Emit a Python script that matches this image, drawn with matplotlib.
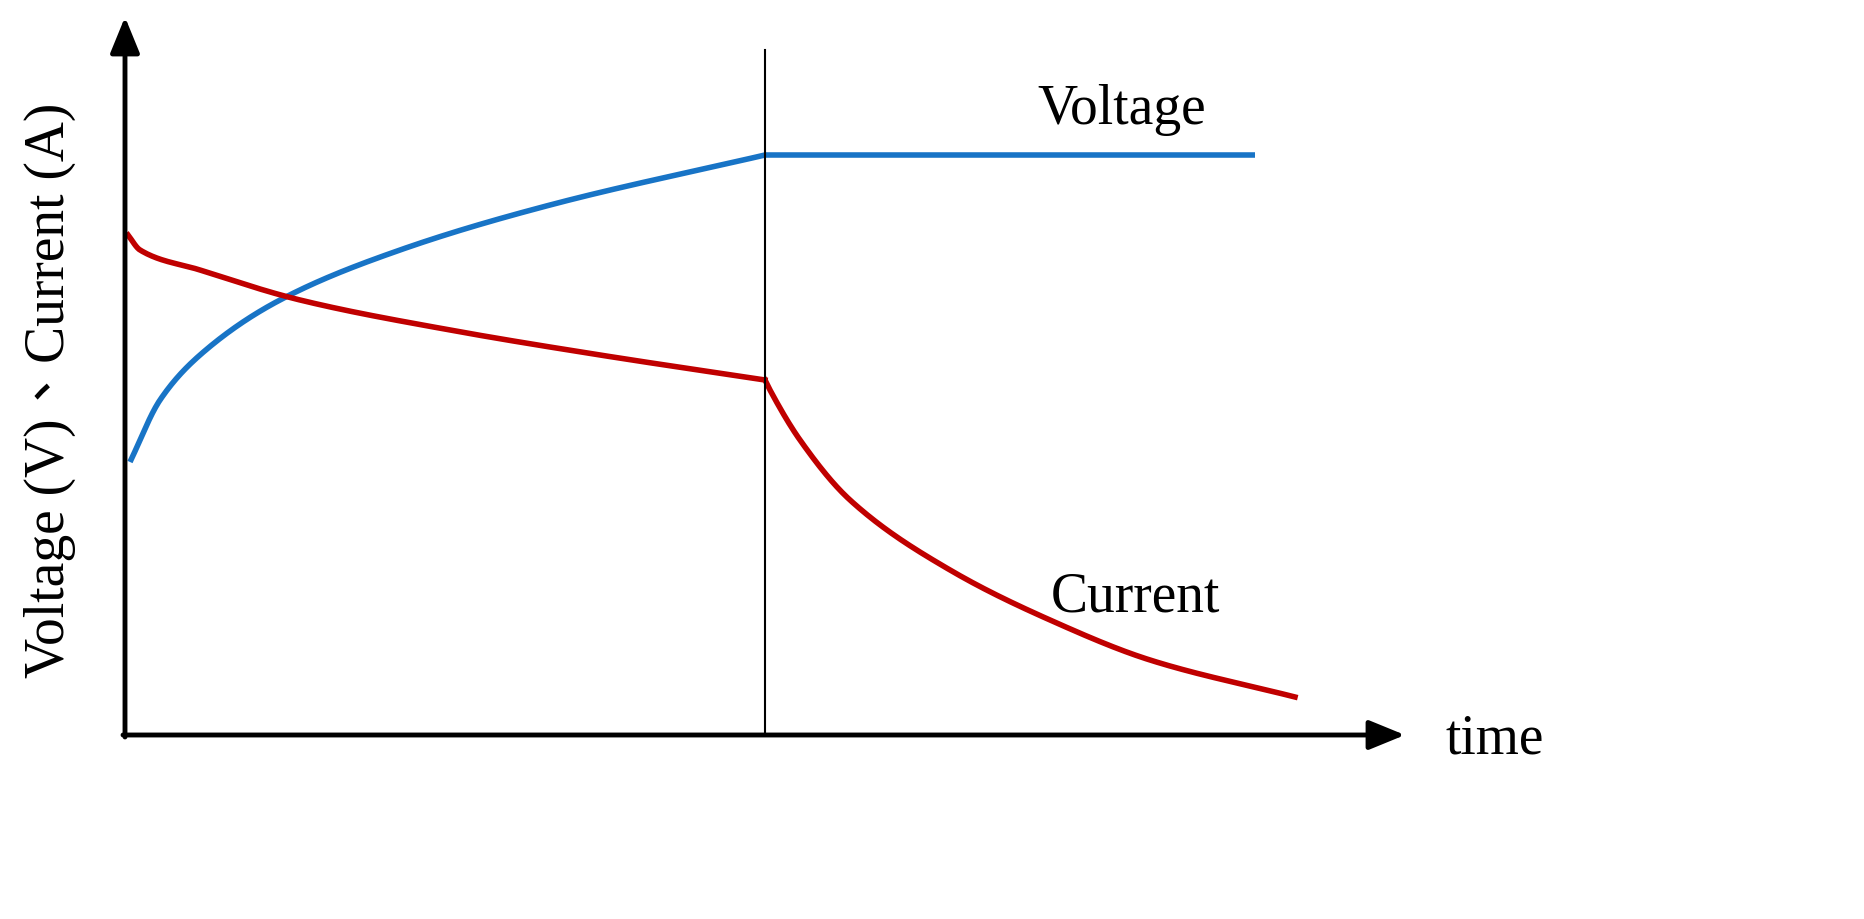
import matplotlib
matplotlib.use("Agg")
import matplotlib.pyplot as plt
import numpy as np

# schematic data (x: time units, y: magnitude units)
v_x = [5, 35, 75, 155, 275, 425, 640, 1130]
v_y = [273, 335, 380, 435, 485, 530, 580, 580]
c1_x = [3, 15, 75, 175, 325, 475, 640]
c1_y = [500, 485, 465, 435, 405, 380, 355]
c2_x = [640, 645, 675, 725, 825, 925, 1025, 1170]
c2_y = [355, 345, 295, 235, 165, 115, 75, 38]

fig = plt.figure(figsize=(18.65, 9.19), dpi=100)
ax = fig.add_axes([0, 0, 1, 1])
ax.set_xlim(-125, 1740)
ax.set_ylim(-184, 735)
ax.axis("off")

def pchip(x, y, n=400):
    x = np.asarray(x, float); y = np.asarray(y, float)
    h = np.diff(x); d = np.diff(y) / h
    m = np.zeros_like(y)
    for k in range(1, len(x) - 1):
        if d[k-1] * d[k] > 0:
            w1 = 2*h[k] + h[k-1]; w2 = h[k] + 2*h[k-1]
            m[k] = (w1 + w2) / (w1 / d[k-1] + w2 / d[k])
    m[0] = d[0]; m[-1] = d[-1]
    t = np.linspace(x[0], x[-1], n)
    i = np.clip(np.searchsorted(x, t) - 1, 0, len(x) - 2)
    s = (t - x[i]) / h[i]
    h00 = 2*s**3 - 3*s**2 + 1; h10 = s**3 - 2*s**2 + s
    h01 = -2*s**3 + 3*s**2; h11 = s**3 - s**2
    yt = h00*y[i] + h10*h[i]*m[i] + h01*y[i+1] + h11*h[i]*m[i+1]
    return t, yt

xs, ys = pchip(v_x[:-1], v_y[:-1])
ax.plot(np.r_[xs, v_x[-1]], np.r_[ys, v_y[-1]], color="#1874c6", lw=4, solid_capstyle="butt")
xs, ys = pchip(c1_x, c1_y)
ax.plot(xs, ys, color="#c00000", lw=4)
xs, ys = pchip(c2_x, c2_y)
ax.plot(xs, ys, color="#c00000", lw=4)

# vertical divider
ax.plot([640, 640], [0, 685], color="black", lw=1.5)

# axes arrows
ax.annotate("", xy=(0, 718), xytext=(0, -2),
            arrowprops=dict(arrowstyle="-|>,head_length=2.2,head_width=0.9", lw=3.5, color="black", shrinkA=0, shrinkB=0))
ax.annotate("", xy=(1280, 0), xytext=(-2, 0),
            arrowprops=dict(arrowstyle="-|>,head_length=2.2,head_width=0.9", lw=3.5, color="black", shrinkA=0, shrinkB=0))

fam = ["Liberation Serif", "Noto Sans CJK TC"]
ax.text(997, 625, "Voltage", fontsize=40, family=fam, ha="center", va="center")
ax.text(1010, 137, "Current", fontsize=40, family=fam, ha="center", va="center")
ax.text(1370, -5, "time", fontsize=40, family=fam, ha="center", va="center")
ax.text(-75, 345, "Voltage (V)、Current (A)", fontsize=40, family=fam,
        ha="center", va="center", rotation=90)

fig.savefig("out.png", dpi=100)
